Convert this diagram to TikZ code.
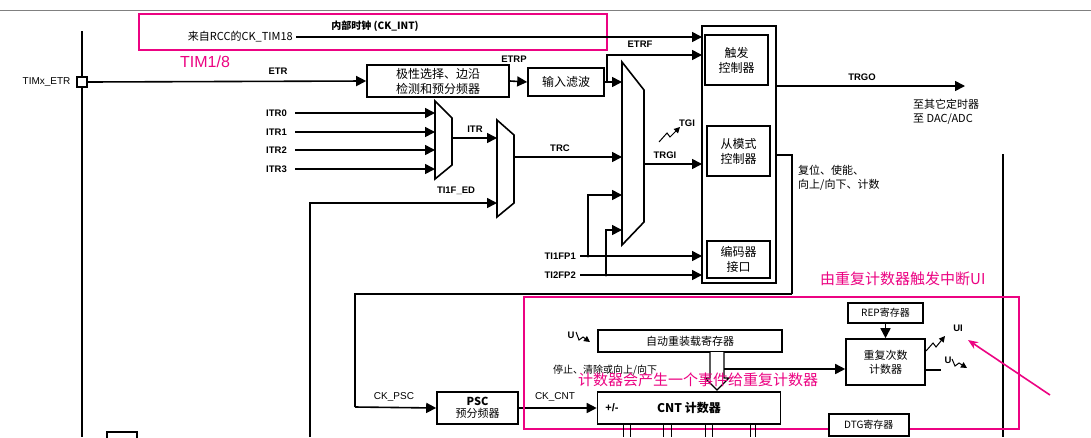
\documentclass[tikz,border=0pt]{standalone}
\usepackage{fontspec}
\setmainfont{Liberation Sans}
\newfontfamily\cjk{Noto Sans CJK SC}
\usetikzlibrary{arrows.meta}
\begin{document}
\begin{tikzpicture}[x=1pt,y=-1pt,
  ar/.style={-{Triangle[length=10pt,width=10pt]},line width=1.6pt},
  ln/.style={line width=1.6pt},
  sa/.style={line width=1pt,-{Triangle[length=6pt,width=6pt]}},
  bx/.style={draw,line width=1.6pt,font=\cjk\fontsize{12}{15}\selectfont,align=center,inner sep=0pt,fill=white},
  lb/.style={font=\bfseries\fontsize{9.5}{10}\selectfont,inner sep=0pt},
  cn/.style={font=\cjk\fontsize{11}{14}\selectfont,inner sep=0pt},
  pk/.style={draw=magenta!90!red,line width=1.6pt},
  pt/.style={text=magenta!90!red,font=\cjk\fontsize{15}{17}\selectfont,inner sep=0pt}]
\useasboundingbox (0,0) rectangle (1091,437);
\fill[white] (0,0) rectangle (1091,437);
\draw[gray,line width=1pt] (0,10) -- (1091,10);
% left bus
\draw[line width=2.2pt] (82,31) -- (82,437);
\node[draw,fill=white,line width=1.2pt,minimum size=10pt,inner sep=0pt] (etrpin) at (82,82) {};
\node[font=\fontsize{10}{11}\selectfont,anchor=east] (etrlab) at (74,82) {TIMx\_ETR};
% internal clock
\node[cn,anchor=east] (rcc) at (293,37) {来自RCC的CK\_TIM18};
\node[cn,font=\cjk\bfseries\fontsize{10}{11}\selectfont] (ckint) at (375,26) {内部时钟 (CK\_INT)};
\draw[pk] (139,14) rectangle (607,50);
\node[pt,font=\fontsize{16}{18}\selectfont] (tim18) at (205,62) {TIM1/8};
% control box
\node[draw,line width=1.6pt,minimum width=74pt,minimum height=257pt,inner sep=0pt] (ctrl) at (739,154.5) {};
\node[bx,minimum width=63pt,minimum height=50pt] (trig) at (736.5,60) {触发\\控制器};
\node[bx,minimum width=63pt,minimum height=50pt] (slave) at (738.5,151) {从模式\\控制器};
\node[bx,minimum width=63pt,minimum height=37pt] (enc) at (738.5,259.5) {编码器\\接口};
\draw[ar] (rcc.east) ++(3,0) coordinate (ck0) -- (702,37);
% ETR path
\node[bx,minimum width=142pt,minimum height=32pt] (pol) at (438,81) {极性选择、边沿\\检测和预分频器};
\draw[ar] (etrpin.east) -- (pol.west);
\node[lb] at (278,71) {ETR};
\node[bx,minimum width=76pt,minimum height=28pt] (filt) at (566,82) {输入滤波};
\draw[ar] (pol.east) -- (filt.west);
\node[lb] at (514,59) {ETRP};
% mux2
\draw[ln,fill=white] (622,62) coordinate (m2) -- (644,90) -- (644,222) -- (622,245) -- cycle;
\draw[ar] (filt.east) -- (622,82);
\draw[ar] (607,82) -- (607,55) -- (702,55);
\node[lb] at (640,44) {ETRF};
% mux1 ITR
\draw[ln,fill=white] (435,101) -- (452,118) -- (452,165) -- (435,179) -- cycle;
\foreach \i/\y in {0/113,1/132,2/150,3/169}{
  \node[lb,anchor=east] (itr\i) at (287,\y) {ITR\i};
  \draw[ar] (295,\y) -- (435,\y);}
% mux ITR2
\draw[ln,fill=white] (497,120) -- (514,135) -- (514,203) -- (497,217) -- cycle;
\draw[ar] (452,138) -- (497,138);
\node[lb] at (475,129) {ITR};
\draw[ar] (310,437) -- (310,203) -- (497,203);
\node[lb] at (456,191) {TI1F\_ED};
\draw[ar] (514,157) -- (622,157);
\node[lb] at (560,148) {TRC};
\draw[ar] (644,164) -- (702,164);
\node[lb] at (665,155) {TRGI};
\node[lb] at (687,123) {TGI};
\draw[sa] (659,142) -- (667,133) -- (670,137) -- (680,127);
% TI1FP1 TI2FP2
\node[lb,anchor=east] (ti1) at (576,256) {TI1FP1};
\node[lb,anchor=east] (ti2) at (576,275) {TI2FP2};
\draw[ar] (580,256) -- (702,256);
\draw[ar] (580,275) -- (702,275);
\draw[ar] (588,256) -- (588,195) -- (622,195);
\draw[ar] (606,275) -- (606,230) -- (622,230);
\fill (588,256) circle (1.6pt) (606,275) circle (1.6pt);
% outputs
\draw[ar] (776,86) -- (965,86);
\node[lb] at (862,77) {TRGO};
\node[cn,anchor=west,align=left] at (913,112) {至其它定时器\\至 DAC/ADC};
\draw[ln] (776,155) -- (792,155) -- (792,294);
\node[cn,anchor=west,align=left] at (798,178) {复位、使能、\\向上/向下、计数};
\draw[line width=2.2pt] (1003,154) -- (1003,437);
\node[pt,anchor=west] at (820,279) {由重复计数器触发中断UI};
% lower section
\draw[ln] (792,294) -- (355,294) -- (355,407);
\node[bx,minimum width=81pt,minimum height=32pt,font=\cjk\fontsize{11}{12}\selectfont] (psc) at (477.5,408) {\textbf{PSC}\\预分频器};
\draw[ar] (355,407) -- (psc.west);
\node[font=\fontsize{10}{11}\selectfont] at (394,397) {CK\_PSC};
\node[bx,minimum width=183pt,minimum height=32pt,font=\cjk\bfseries\fontsize{12}{14}\selectfont] (cnt) at (689,408) {CNT 计数器};
\node[lb,font=\bfseries\fontsize{11}{12}\selectfont] at (612,408) {+/-};
\draw[ar] (psc.east) -- (cnt.west);
\node[font=\fontsize{10}{11}\selectfont] at (555,397) {CK\_CNT};
\node[bx,minimum width=184pt,minimum height=22pt,font=\cjk\fontsize{11}{12}\selectfont] (arr) at (690,341) {自动重装载寄存器};
\node[font=\bfseries\fontsize{9.5}{10}\selectfont] (u1) at (571,335) {U};
\draw[sa] (576,332) -- (579,340) -- (583,337) -- (590,342);
\draw[line width=1.1pt,fill=white] (710,352) -- (710,378) -- (705,378) -- (717,390) -- (729,378) -- (724,378) -- (724,352);
\node[cn,font=\cjk\fontsize{10}{11}\selectfont,anchor=west] at (553,370) {停止、清除或向上/向下};
\node[bx,minimum width=79pt,minimum height=46pt,font=\cjk\fontsize{11}{14}\selectfont] (rep) at (885.5,362) {重复次数\\计数器};
\draw[ar] (724,369) -- (rep.west |- 0,369);
\node[bx,minimum width=75pt,minimum height=20pt,font=\cjk\fontsize{10}{11}\selectfont] (repr) at (885.5,313) {REP寄存器};
\draw[ar] (repr.south) -- (rep.north);
\draw[sa] (926,351) -- (933,343) -- (936,347) -- (945,336);
\node[lb] at (958,328) {UI};
\draw[ln] (925,370) -- (941,370);
\node[lb] at (948,360) {U};
\draw[sa] (952,359) -- (955,366) -- (959,363) -- (967,368);
\node[pt,anchor=west] at (578,380) {计数器会产生一个事件给重复计数器};
\draw[pk] (524,297) rectangle (1019,429);
\draw[magenta!90!red,line width=1.6pt,-{Stealth[length=10pt,width=8pt]}] (1050,395) -- (968,340);
\node[bx,minimum width=80pt,minimum height=22pt,font=\cjk\fontsize{10}{11}\selectfont,anchor=north west] (dtg) at (828,413) {DTG寄存器};
\foreach \x in {623,630,663,671,705,712,750,755} \draw[line width=1pt] (\x,424) -- (\x,437);
\draw[line width=1.2pt] (107,432) rectangle (137,440);
\end{tikzpicture}
\end{document}
